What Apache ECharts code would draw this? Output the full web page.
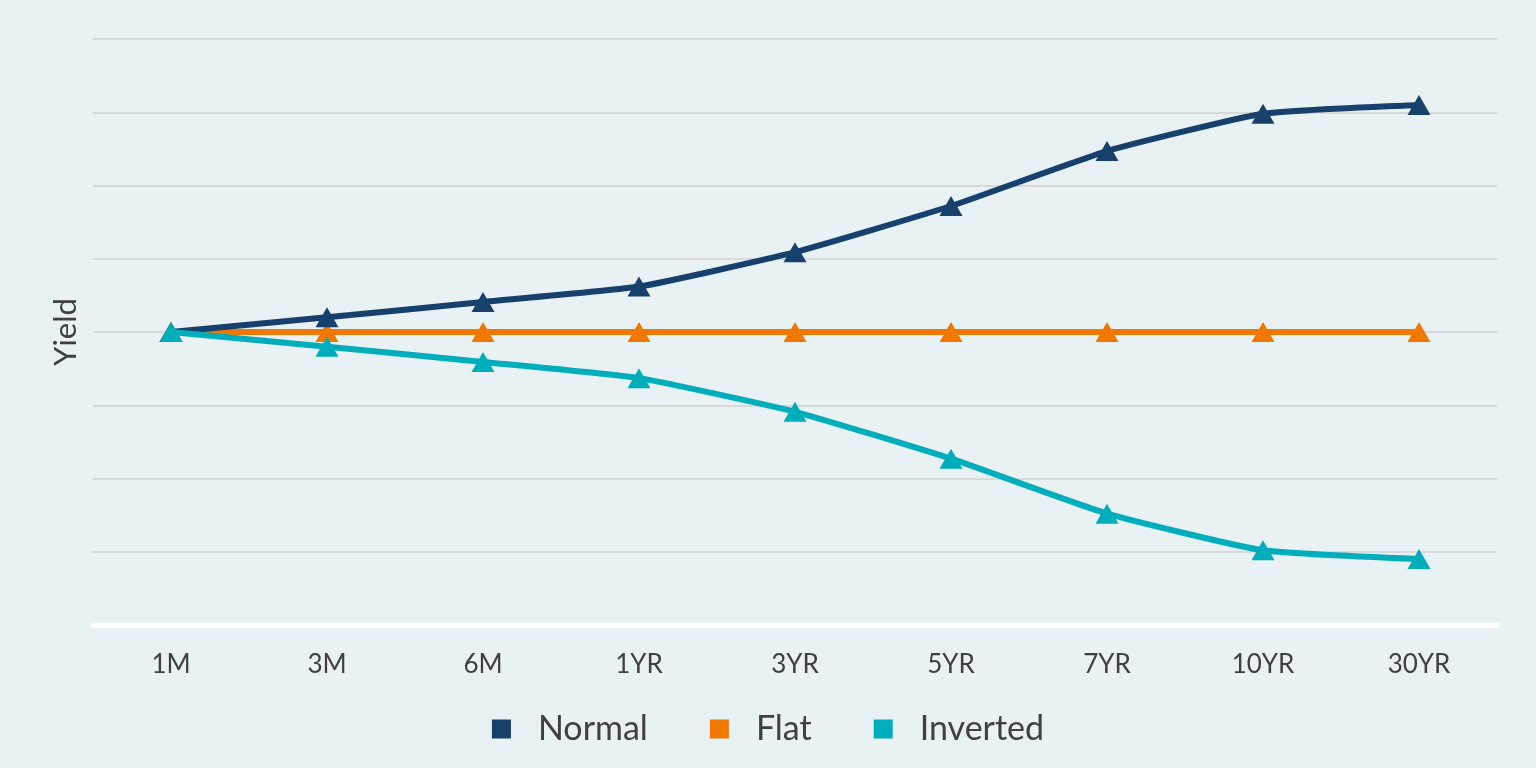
<!DOCTYPE html>
<html>
<head>
<meta charset="utf-8">
<script src="https://cdn.jsdelivr.net/npm/echarts@6/dist/echarts.min.js"></script>
<style>
html,body{margin:0;padding:0;background:#e8f1f4;}
#c{width:1536px;height:768px;}
</style>
</head>
<body>
<div id="c"></div>
<script>
var categories = ['1M','3M','6M','1YR','3YR','5YR','7YR','10YR','30YR'];
var normal = [4, 4.2, 4.41, 4.62, 5.09, 5.72, 6.47, 6.98, 7.1];
var flat = [4, 4, 4, 4, 4, 4, 4, 4, 4];
var inverted = [4, 3.8, 3.59, 3.37, 2.91, 2.27, 1.52, 1.02, 0.9];
var seriesNames = ['Normal','Flat','Inverted'];
var colors = ['#17406d','#f07800','#00adbb'];
var font = 'Lato';

var chart = echarts.init(document.getElementById('c'));
function mk(name, data, color, z){
  return {
    name: name, type: 'line', data: data, smooth: 0.15,
    symbol: 'triangle', symbolSize: [23, 20], z: z,
    lineStyle: {color: color, width: 6},
    itemStyle: {color: color},
    emphasis: {disabled: true}
  };
}
chart.setOption({
  backgroundColor: '#e8f1f4',
  animation: false,
  color: colors,
  grid: {left: 93, right: 39, top: 39, bottom: 143},
  legend: {
    bottom: 17, left: 'center',
    itemWidth: 19, itemHeight: 19, itemGap: 62,
    icon: 'rect',
    data: seriesNames,
    textStyle: {fontFamily: font, fontSize: 34, color: '#404040', padding: [0,0,0,22]}
  },
  xAxis: {
    type: 'category', data: categories, boundaryGap: true,
    axisLine: {show: true, lineStyle: {color: '#ffffff', width: 5}},
    axisTick: {show: false},
    axisLabel: {color: '#404040', fontFamily: font, fontSize: 26, margin: 27},
    splitLine: {show: false}
  },
  yAxis: {
    type: 'value', min: 0, max: 8, interval: 1,
    name: 'Yield', nameLocation: 'middle', nameGap: 12, nameRotate: 90,
    nameTextStyle: {color: '#404040', fontFamily: font, fontSize: 31},
    axisLine: {show: false}, axisTick: {show: false},
    axisLabel: {show: false},
    splitLine: {show: true, lineStyle: {color: '#d9d9d9', width: 2}}
  },
  series: [
    mk(seriesNames[0], normal, colors[0], 3),
    mk(seriesNames[1], flat, colors[1], 2),
    mk(seriesNames[2], inverted, colors[2], 4)
  ]
});
</script>
</body>
</html>
